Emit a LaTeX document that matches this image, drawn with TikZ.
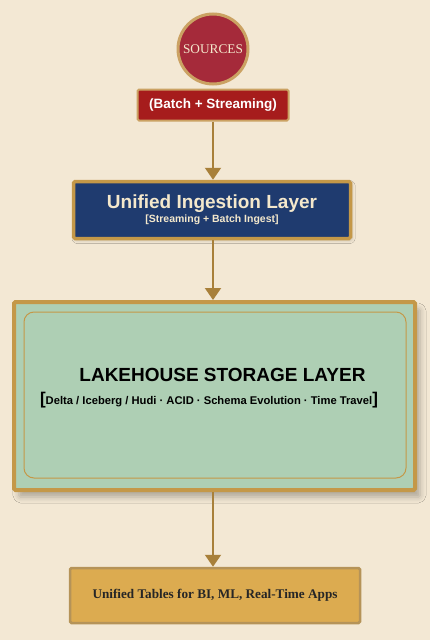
\documentclass[tikz,border=0pt]{standalone}
\usepackage{fontspec}
\setmainfont{Liberation Serif}
\setsansfont{Liberation Sans}
\usetikzlibrary{arrows.meta,shadows.blur}
\definecolor{paper}{HTML}{F3E8D4}
\definecolor{wine}{HTML}{A52A3A}
\definecolor{brick}{HTML}{A61C1C}
\definecolor{navy}{HTML}{1F3B6F}
\definecolor{sage}{HTML}{AECFB4}
\definecolor{gold}{HTML}{C49848}
\definecolor{palegold}{HTML}{CBA263}
\definecolor{mustard}{HTML}{DCAB50}
\definecolor{bronze}{HTML}{A8803A}
\definecolor{ivory}{HTML}{F4E8CC}
\begin{document}
\begin{tikzpicture}[x=1pt,y=-1pt,
    box/.style={rectangle,inner sep=0pt,rounded corners=1.5pt},
    flow/.style={draw=bronze,line width=2pt,-{Triangle[width=16pt,length=12pt]}}]
        %% Page
        \useasboundingbox (0,0) rectangle (430,640);
        \fill[paper] (0,0) rectangle (430,640);
        %% Boxes
        \node[circle,draw=palegold,line width=3pt,fill=wine,minimum size=70pt,
            inner sep=0pt,text=ivory,font=\fontsize{13.3}{14}\selectfont] (sources) at (213,49) {SOURCES};
        \node[box,draw=palegold,line width=2pt,fill=brick,minimum width=151pt,minimum height=31pt,
            text=white,font=\sffamily\bfseries\fontsize{13.5}{15}\selectfont] (batch) at (213,105) {(Batch + Streaming)};
        \node[box,draw=gold,line width=3.5pt,fill=navy,minimum width=277pt,minimum height=57pt,
            text=ivory,align=center,blur shadow={shadow xshift=1.5pt,shadow yshift=-2pt,shadow blur radius=3pt,shadow opacity=18}] (ingest) at (212,210)
            {{\sffamily\bfseries\fontsize{19}{20}\selectfont Unified Ingestion Layer}\\[2pt]
             {\sffamily\bfseries\fontsize{10.5}{12}\selectfont [Streaming + Batch Ingest]}};
        \node[box,draw=gold,line width=4pt,fill=sage,minimum width=401pt,minimum height=188pt,
            blur shadow={shadow xshift=5pt,shadow yshift=-7pt,shadow blur radius=6pt,shadow opacity=28}] (store) at (214.5,396) {};
        \node[rectangle,draw=gold,line width=1pt,rounded corners=10pt,minimum width=382pt,
            minimum height=166pt] (storeinner) at (215,395) {};
        \node[font=\sffamily\bfseries\fontsize{19}{20}\selectfont] (storetitle) at (222.5,375) {LAKEHOUSE STORAGE LAYER};
        \node[font=\sffamily\bfseries\fontsize{11.2}{12}\selectfont] (storenote) at (209,400)
            {{\fontsize{17}{17}\selectfont[}Delta / Iceberg / Hudi · ACID · Schema Evolution · Time Travel{\fontsize{17}{17}\selectfont]}};
        \node[box,draw=bronze!85,line width=2.5pt,fill=mustard,minimum width=290pt,minimum height=55pt,
            font=\bfseries\fontsize{13.2}{15}\selectfont,text=black!85] (tables) at (215,595.5)
            {Unified Tables for BI, ML, Real-Time Apps};
        %% Connectors
        \draw[flow] (batch.south -| sources) -- (ingest.north -| sources);
        \draw[flow] (ingest.south -| sources) -- (store.north -| sources);
        \draw[flow] (store.south -| sources) -- (tables.north -| sources);
    \end{tikzpicture}
\end{document}
